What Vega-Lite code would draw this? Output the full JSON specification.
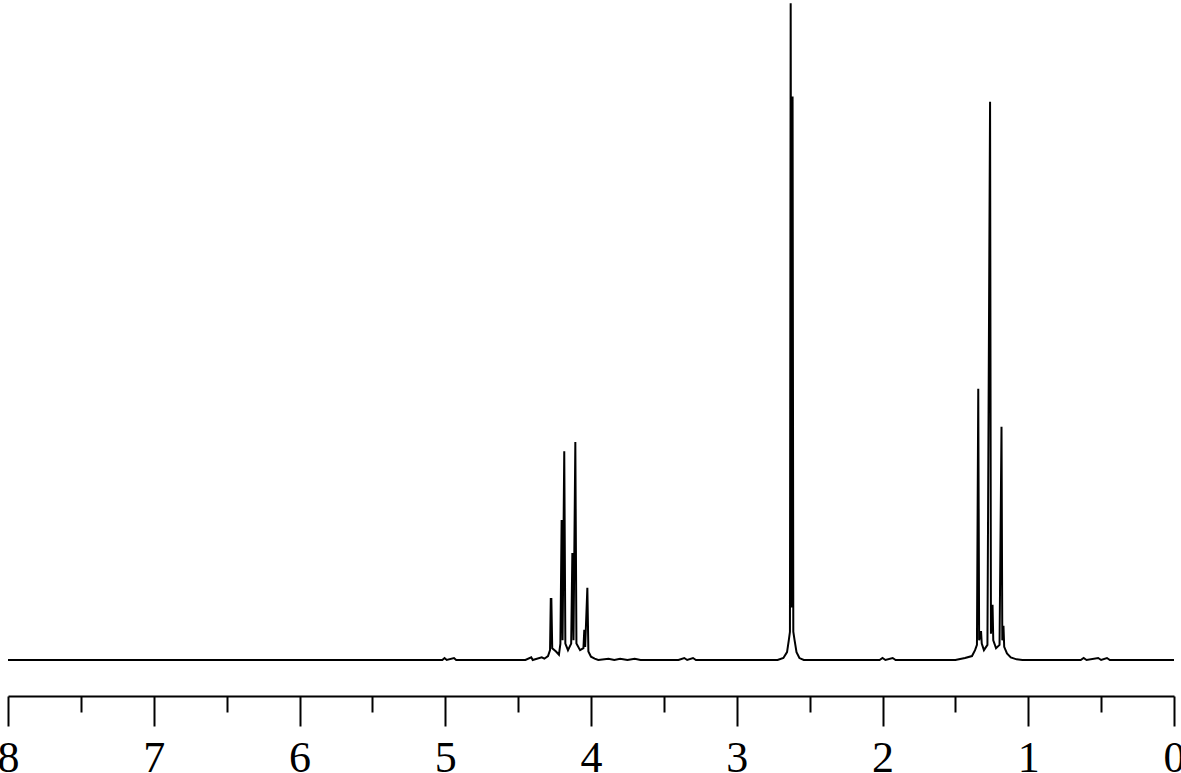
{
  "$schema": "https://vega.github.io/schema/vega-lite/v6.json",
  "autosize": {"type": "none"},
  "width": 1166,
  "height": 696,
  "padding": {"left": 8, "right": 7, "top": 0, "bottom": 77},
  "background": "white",
  "config": {"view": {"stroke": null}},
  "data": {"values": [
    {"ppm": 8.0, "intensity": 0},
    {"ppm": 5.02, "intensity": 0}, {"ppm": 5.005, "intensity": 0.3}, {"ppm": 4.99, "intensity": 0},
    {"ppm": 4.94, "intensity": 0.3}, {"ppm": 4.925, "intensity": 0},
    {"ppm": 4.45, "intensity": 0}, {"ppm": 4.41, "intensity": 0.4}, {"ppm": 4.40, "intensity": 0},
    {"ppm": 4.338, "intensity": 0.4}, {"ppm": 4.32, "intensity": 0.2},
    {"ppm": 4.295, "intensity": 0.6}, {"ppm": 4.281, "intensity": 1.5},
    {"ppm": 4.276, "intensity": 9.3}, {"ppm": 4.272, "intensity": 9.3}, {"ppm": 4.266, "intensity": 1.8},
    {"ppm": 4.24, "intensity": 1.3}, {"ppm": 4.22, "intensity": 0.8}, {"ppm": 4.21, "intensity": 2.5},
    {"ppm": 4.2015, "intensity": 21.3}, {"ppm": 4.195, "intensity": 3.0},
    {"ppm": 4.1835, "intensity": 31.8}, {"ppm": 4.176, "intensity": 2.5},
    {"ppm": 4.158, "intensity": 1.5}, {"ppm": 4.136, "intensity": 2.5},
    {"ppm": 4.128, "intensity": 16.3}, {"ppm": 4.12, "intensity": 3.0},
    {"ppm": 4.1075, "intensity": 33.2}, {"ppm": 4.1, "intensity": 2.5},
    {"ppm": 4.075, "intensity": 1.5}, {"ppm": 4.052, "intensity": 1.8},
    {"ppm": 4.046, "intensity": 4.6}, {"ppm": 4.04, "intensity": 2.0},
    {"ppm": 4.025, "intensity": 11.0}, {"ppm": 4.018, "intensity": 1.3},
    {"ppm": 4.0, "intensity": 0.5}, {"ppm": 3.975, "intensity": 0.2}, {"ppm": 3.95, "intensity": 0},
    {"ppm": 3.88, "intensity": 0.2}, {"ppm": 3.84, "intensity": 0}, {"ppm": 3.8, "intensity": 0.2},
    {"ppm": 3.75, "intensity": 0}, {"ppm": 3.7, "intensity": 0.2}, {"ppm": 3.66, "intensity": 0},
    {"ppm": 3.4, "intensity": 0}, {"ppm": 3.36, "intensity": 0.3}, {"ppm": 3.34, "intensity": 0},
    {"ppm": 3.3, "intensity": 0.3}, {"ppm": 3.28, "intensity": 0},
    {"ppm": 2.72, "intensity": 0}, {"ppm": 2.68, "intensity": 0.3}, {"ppm": 2.655, "intensity": 1.2},
    {"ppm": 2.643, "intensity": 3.0}, {"ppm": 2.635, "intensity": 4.3},
    {"ppm": 2.63, "intensity": 100}, {"ppm": 2.624, "intensity": 8},
    {"ppm": 2.617, "intensity": 85.8}, {"ppm": 2.612, "intensity": 4.3},
    {"ppm": 2.603, "intensity": 3.0}, {"ppm": 2.59, "intensity": 1.2},
    {"ppm": 2.57, "intensity": 0.3}, {"ppm": 2.54, "intensity": 0},
    {"ppm": 2.02, "intensity": 0}, {"ppm": 2.0, "intensity": 0.3}, {"ppm": 1.98, "intensity": 0},
    {"ppm": 1.93, "intensity": 0.3}, {"ppm": 1.91, "intensity": 0},
    {"ppm": 1.5, "intensity": 0}, {"ppm": 1.434, "intensity": 0.3}, {"ppm": 1.386, "intensity": 0.6},
    {"ppm": 1.365, "intensity": 1.5}, {"ppm": 1.352, "intensity": 2.3},
    {"ppm": 1.343, "intensity": 41.3}, {"ppm": 1.337, "intensity": 3.0},
    {"ppm": 1.324, "intensity": 4.4}, {"ppm": 1.319, "intensity": 2.5},
    {"ppm": 1.304, "intensity": 1.5}, {"ppm": 1.28, "intensity": 2.3},
    {"ppm": 1.262, "intensity": 85.0}, {"ppm": 1.256, "intensity": 4.0},
    {"ppm": 1.245, "intensity": 8.4}, {"ppm": 1.24, "intensity": 3.0},
    {"ppm": 1.221, "intensity": 1.8}, {"ppm": 1.197, "intensity": 2.3},
    {"ppm": 1.1835, "intensity": 35.5}, {"ppm": 1.178, "intensity": 3.0},
    {"ppm": 1.17, "intensity": 5.2}, {"ppm": 1.165, "intensity": 2.0},
    {"ppm": 1.146, "intensity": 1.0}, {"ppm": 1.12, "intensity": 0.4},
    {"ppm": 1.08, "intensity": 0.1}, {"ppm": 1.04, "intensity": 0},
    {"ppm": 0.64, "intensity": 0}, {"ppm": 0.62, "intensity": 0.3}, {"ppm": 0.6, "intensity": 0},
    {"ppm": 0.52, "intensity": 0.3}, {"ppm": 0.5, "intensity": 0},
    {"ppm": 0.46, "intensity": 0.3}, {"ppm": 0.44, "intensity": 0},
    {"ppm": 0.0, "intensity": 0}
  ]},
  "mark": {"type": "line", "color": "#000000", "strokeWidth": 2, "interpolate": "linear"},
  "encoding": {
    "x": {
      "field": "ppm",
      "type": "quantitative",
      "scale": {"domain": [0, 8], "reverse": true, "nice": false, "zero": false},
      "axis": {
        "title": null,
        "orient": "bottom",
        "values": [0, 0.5, 1, 1.5, 2, 2.5, 3, 3.5, 4, 4.5, 5, 5.5, 6, 6.5, 7, 7.5, 8],
        "labelExpr": "datum.value % 1 === 0 ? format(datum.value, 'd') : ''",
        "domainColor": "#000000",
        "domainWidth": 2,
        "tickColor": "#000000",
        "tickWidth": 2,
        "tickSize": {"condition": {"test": "datum.value % 1 !== 0", "value": 16}, "value": 30},
        "labelFont": "Liberation Serif, Times New Roman, serif",
        "labelFontSize": 44,
        "labelColor": "#000000",
        "labelPadding": 10,
        "labelFlush": false,
        "labelOverlap": false,
        "labelBound": false,
        "grid": false
      }
    },
    "y": {
      "field": "intensity",
      "type": "quantitative",
      "scale": {"domain": [-5.48, 100.5], "nice": false, "zero": false},
      "axis": null
    }
  }
}
